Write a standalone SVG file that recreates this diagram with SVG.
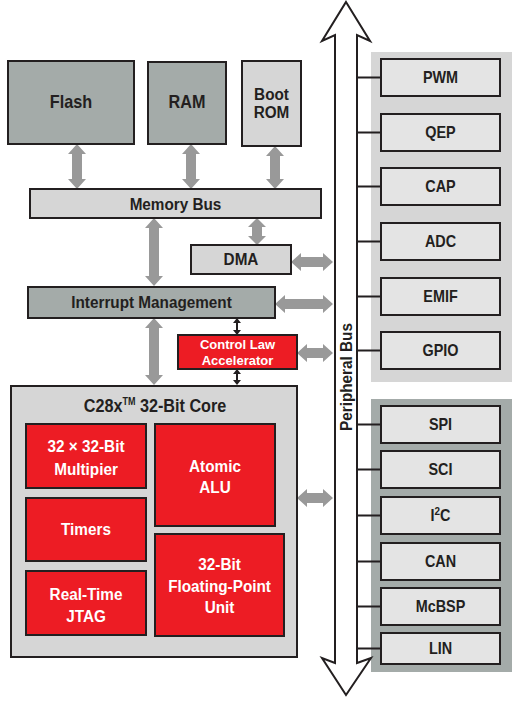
<svg xmlns="http://www.w3.org/2000/svg" width="514" height="705" viewBox="0 0 514 705">
<style>
text{font-family:"Liberation Sans Narrow","Liberation Sans",Arial,sans-serif;font-weight:bold;text-anchor:middle;fill:#231f20;transform-box:fill-box;transform-origin:center;transform:scaleX(0.9)}
text.nos{transform:none}
.w{fill:#ffffff}
.box{stroke:#231f20;stroke-width:2}
.gg{fill:#a4aba9}
.lg{fill:#d6d6d6}
.pb{fill:#e4e4e4}
.red{fill:#ed1c24}
.arr{fill:#999999}
.blk{fill:#231f20}
.ln{stroke:#231f20;stroke-width:2;fill:none}
.t16{font-size:18px}
.t15{font-size:17px}
.t14{font-size:16px}
.t12{font-size:13px}
</style>
<rect width="514" height="705" fill="#ffffff"/>
<g id="panels">
<rect x="371" y="52" width="141" height="330" fill="#d6d6d6"/>
<rect x="371" y="399" width="141" height="273" fill="#a4aba9"/>
</g>
<g id="connectors">
<polygon class="arr" points="77,144 86,154 82,154 82,179 86,179 77,189 68,179 72,179 72,154 68,154"/>
<polygon class="arr" points="191,144 200,154 196,154 196,179 200,179 191,189 182,179 186,179 186,154 182,154"/>
<polygon class="arr" points="275,146 284,156 280,156 280,179 284,179 275,189 266,179 270,179 270,156 266,156"/>
<polygon class="arr" points="154,218 163,228 159,228 159,276 163,276 154,286 145,276 149,276 149,228 145,228"/>
<polygon class="arr" points="257,218 266,227 262,227 262,236 266,236 257,245 248,236 252,236 252,227 248,227"/>
<polygon class="arr" points="154,318 163,328 159,328 159,375 163,375 154,385 145,375 149,375 149,328 145,328"/>
<polygon class="arr" points="291,262 301,253 301,257 323,257 323,253 333,262 323,271 323,267 301,267 301,271"/>
<polygon class="arr" points="275,304 285,295 285,299 323,299 323,295 333,304 323,313 323,309 285,309 285,313"/>
<polygon class="arr" points="297,353 307,344 307,348 323,348 323,344 333,353 323,362 323,358 307,358 307,362"/>
<polygon class="arr" points="297,498 307,489 307,493 323,493 323,489 333,498 323,507 323,503 307,503 307,507"/>
<polygon class="blk" points="237,318 241,323 238,323 238,330 241,330 237,335 233,330 236,330 236,323 233,323"/>
<polygon class="blk" points="237,369 241,374 238,374 238,380 241,380 237,385 233,380 236,380 236,374 233,374"/>
<polygon points="346,2 370,41 357,35 357,663 371,658 346,695 322,658 335,663 335,35 322,41" fill="#ffffff" stroke="#231f20" stroke-width="2" stroke-linejoin="miter"/>
<path class="ln" d="M357,77.5H381M357,132.5H381M357,186.5H381M357,241.5H381M357,296.5H381M357,350.5H381M357,424.5H381M357,469.5H381M357,515.5H381M357,561.5H381M357,606.5H381M357,648.5H381"/>
</g>
<g id="buslabel" transform="translate(352,377) rotate(-90)"><text class="t15" x="0" y="0">Peripheral Bus</text></g>
<g id="flash"><rect class="box gg" x="8" y="61" width="126" height="83"/><text class="t16" x="71" y="108">Flash</text></g>
<g id="ram"><rect class="box gg" x="148" y="62" width="78" height="82"/><text class="t16" x="187" y="108">RAM</text></g>
<g id="bootrom"><rect class="box lg" x="242" y="61" width="59" height="85"/><text class="t15" x="271.5" y="100">Boot</text><text class="t15" x="271.5" y="118">ROM</text></g>
<g id="membus"><rect class="box lg" x="30" y="189" width="291" height="29"/><text class="t15" x="175.5" y="210">Memory Bus</text></g>
<g id="dma"><rect class="box lg" x="191" y="245" width="100" height="29"/><text class="t15" x="241" y="265">DMA</text></g>
<g id="interrupt"><rect class="box gg" x="28" y="287" width="247" height="31"/><text class="t15" x="151.5" y="308">Interrupt Management</text></g>
<g id="cla"><rect class="box red" x="178" y="335" width="119" height="34"/><text class="t12 w nos" x="237.5" y="349">Control Law</text><text class="t12 w nos" x="237.5" y="365">Accelerator</text></g>
<g id="core"><rect class="box lg" x="11" y="386" width="286" height="271"/><text class="t16" x="155" y="412">C28x<tspan font-size="10" dy="-7">TM</tspan><tspan dy="7"> 32-Bit Core</tspan></text></g>
<g id="multiplier"><rect class="box red" x="26" y="424" width="120" height="64"/><text class="t15 w" x="86" y="452">32 × 32-Bit</text><text class="t15 w" x="86" y="475">Multipier</text></g>
<g id="timers"><rect class="box red" x="26" y="498" width="120" height="63"/><text class="t15 w" x="86" y="535">Timers</text></g>
<g id="jtag"><rect class="box red" x="26" y="571" width="120" height="64"/><text class="t15 w" x="86" y="600">Real-Time</text><text class="t15 w" x="86" y="622">JTAG</text></g>
<g id="alu"><rect class="box red" x="155" y="424" width="120" height="102"/><text class="t15 w" x="215" y="472">Atomic</text><text class="t15 w" x="215" y="493">ALU</text></g>
<g id="fpu"><rect class="box red" x="155" y="534" width="129" height="102"/><text class="t15 w" x="219.5" y="570">32-Bit</text><text class="t15 w" x="219.5" y="592">Floating-Point</text><text class="t15 w" x="219.5" y="613">Unit</text></g>
<g id="pwm"><rect class="box pb" x="381" y="59" width="119" height="37"/><text class="t14" x="440.5" y="83">PWM</text></g>
<g id="qep"><rect class="box pb" x="381" y="114" width="119" height="37"/><text class="t14" x="440.5" y="138">QEP</text></g>
<g id="cap"><rect class="box pb" x="381" y="168" width="119" height="37"/><text class="t14" x="440.5" y="192">CAP</text></g>
<g id="adc"><rect class="box pb" x="381" y="223" width="119" height="37"/><text class="t14" x="440.5" y="247">ADC</text></g>
<g id="emif"><rect class="box pb" x="381" y="278" width="119" height="37"/><text class="t14" x="440.5" y="302">EMIF</text></g>
<g id="gpio"><rect class="box pb" x="381" y="332" width="119" height="37"/><text class="t14" x="440.5" y="356">GPIO</text></g>
<g id="spi"><rect class="box pb" x="381" y="406" width="119" height="37"/><text class="t14" x="440.5" y="430">SPI</text></g>
<g id="sci"><rect class="box pb" x="381" y="451" width="119" height="37"/><text class="t14" x="440.5" y="475">SCI</text></g>
<g id="i2c"><rect class="box pb" x="381" y="497" width="119" height="37"/><text class="t14" x="440.5" y="521">I<tspan font-size="11" dy="-6">2</tspan><tspan dy="6">C</tspan></text></g>
<g id="can"><rect class="box pb" x="381" y="543" width="119" height="37"/><text class="t14" x="440.5" y="567">CAN</text></g>
<g id="mcbsp"><rect class="box pb" x="381" y="588" width="119" height="37"/><text class="t14" x="440.5" y="612">McBSP</text></g>
<g id="lin"><rect class="box pb" x="381" y="633" width="119" height="31"/><text class="t14" x="440.5" y="654">LIN</text></g>
</svg>
